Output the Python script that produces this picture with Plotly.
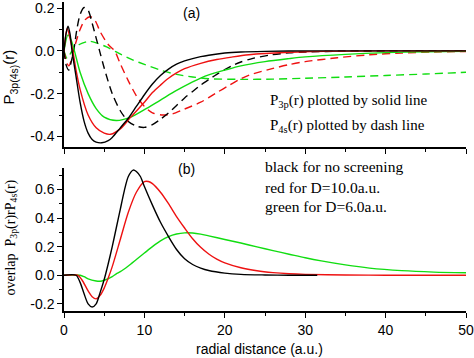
import plotly.graph_objects as go

# ---------------- Panel (a): radial functions ----------------
r_3p_black = [0, 0.25, 0.5, 0.75, 1.0, 1.5, 2, 2.5, 3, 3.5, 4, 4.7, 5.5, 6, 7, 8, 9, 10, 11, 12, 13, 14, 15, 16, 17, 18, 20, 22, 25, 30, 40, 50]
p_3p_black = [0, 0.08, 0.116, 0.08, 0.0, -0.12, -0.24, -0.33, -0.385, -0.415, -0.427, -0.43, -0.42, -0.405, -0.36, -0.315, -0.26, -0.205, -0.155, -0.115, -0.085, -0.062, -0.047, -0.036, -0.027, -0.02, -0.01, -0.005, -0.002, 0, 0, 0]

r_3p_red = [0, 0.4, 0.8, 1.1, 1.5, 2, 3, 4, 5, 5.8, 7, 8.3, 10, 11, 12, 13, 14, 15, 17, 19, 21, 23, 25, 30, 40, 50]
p_3p_red = [0, 0.105, 0.05, 0, -0.09, -0.18, -0.3, -0.36, -0.385, -0.39, -0.365, -0.31, -0.24, -0.195, -0.16, -0.128, -0.103, -0.083, -0.058, -0.04, -0.028, -0.018, -0.012, -0.004, 0, 0]

r_3p_green = [0, 0.5, 0.9, 1.3, 2, 3, 4, 5, 6.5, 8.3, 10, 12, 14, 16, 17, 18, 20, 22, 25, 28, 30, 35, 40, 45, 50]
p_3p_green = [0, 0.075, 0.05, 0, -0.1, -0.2, -0.27, -0.31, -0.326, -0.31, -0.275, -0.23, -0.185, -0.145, -0.127, -0.112, -0.09, -0.07, -0.05, -0.036, -0.028, -0.016, -0.008, -0.004, -0.002]

r_4s_black = [0, 0.3, 0.6, 0.9, 1.2, 1.6, 2, 2.5, 3, 3.5, 4, 4.5, 5, 6, 7, 8, 9, 10, 11, 12, 13, 14, 15, 16, 17, 18, 19, 20, 21, 22, 23.5, 25.5, 28, 30, 35, 40, 50]
p_4s_black = [0, -0.07, -0.09, -0.05, 0, 0.1, 0.17, 0.203, 0.19, 0.13, 0.06, -0.01, -0.08, -0.2, -0.28, -0.33, -0.352, -0.358, -0.345, -0.32, -0.29, -0.255, -0.22, -0.19, -0.16, -0.135, -0.11, -0.088, -0.068, -0.052, -0.035, -0.02, -0.009, -0.005, -0.001, 0, 0]

r_4s_red = [0, 0.3, 0.6, 1.0, 1.4, 2, 2.6, 3.3, 3.9, 4.5, 5.5, 6.3, 7, 8, 9, 10, 11, 12.3, 13.5, 15, 17, 19, 20.6, 22, 23.1, 26, 28, 30, 34, 38, 42, 46, 50]
p_4s_red = [0, -0.05, -0.07, -0.03, 0.03, 0.1, 0.145, 0.16, 0.14, 0.09, 0.03, 0, -0.06, -0.14, -0.21, -0.26, -0.29, -0.3, -0.295, -0.272, -0.24, -0.195, -0.16, -0.13, -0.112, -0.082, -0.064, -0.05, -0.032, -0.018, -0.01, -0.005, -0.003]

r_4s_green = [0, 0.4, 1.0, 1.9, 3.2, 4.2, 5.3, 6.5, 8.6, 10, 12, 14, 16, 18, 22, 26, 30, 35, 40, 45, 50]
p_4s_green = [0, -0.035, 0.0, 0.03, 0.045, 0.035, 0.019, -0.005, -0.043, -0.063, -0.09, -0.11, -0.122, -0.13, -0.133, -0.132, -0.128, -0.122, -0.115, -0.108, -0.1]

# ---------------- Panel (b): overlap ----------------
r_ov_black = [0, 1.5, 2, 2.5, 3, 3.5, 4, 4.5, 5, 5.5, 6, 6.5, 7, 7.5, 8, 8.6, 9, 9.5, 10, 11, 12, 13, 14, 15, 16, 17, 18, 20, 22, 25, 28, 31.5]
ov_black = [0, 0, -0.05, -0.13, -0.2, -0.222, -0.2, -0.12, -0.03, 0.08, 0.2, 0.33, 0.46, 0.59, 0.69, 0.735, 0.725, 0.69, 0.62, 0.49, 0.37, 0.27, 0.18, 0.115, 0.075, 0.05, 0.033, 0.015, 0.006, 0.002, 0, 0]

r_ov_red = [0, 1.7, 2.2, 3, 3.5, 4, 4.5, 5, 5.5, 6, 7, 8, 9, 10, 10.5, 11, 12, 13, 14, 15, 16, 17, 18, 19, 20, 22, 24, 26, 28, 30, 35, 40, 50]
ov_red = [0, 0, -0.03, -0.11, -0.15, -0.165, -0.14, -0.09, -0.02, 0.06, 0.25, 0.44, 0.58, 0.655, 0.655, 0.64, 0.58, 0.5, 0.41, 0.33, 0.255, 0.195, 0.148, 0.112, 0.086, 0.052, 0.031, 0.018, 0.01, 0.006, 0.002, 0, 0]

r_ov_green = [0, 2, 2.5, 3, 4, 4.5, 5, 6, 6.5, 7, 8, 9, 10, 11, 12, 13, 14, 15, 16, 17, 18, 20, 22, 24, 26, 28, 30, 32, 35, 38, 42, 46, 50]
ov_green = [0, 0, -0.01, -0.025, -0.04, -0.042, -0.035, -0.01, 0.01, 0.025, 0.065, 0.11, 0.155, 0.2, 0.24, 0.27, 0.288, 0.296, 0.295, 0.287, 0.275, 0.25, 0.225, 0.198, 0.172, 0.147, 0.122, 0.1, 0.072, 0.05, 0.032, 0.022, 0.017]

x_ticks = [0, 10, 20, 30, 40, 50]
ya_ticks = [0.2, 0.0, -0.2, -0.4]
yb_ticks = [-0.2, 0.0, 0.2, 0.4, 0.6]

BLACK = "#000000"
RED = "#ee1111"
GREEN = "#11dd11"
DASH = "8px,5px"

fig = go.Figure()

def add(xs, ys, color, dash, ax):
    fig.add_trace(go.Scatter(
        x=xs, y=ys, mode="lines",
        line=dict(color=color, width=1.4, dash=dash, shape="spline", smoothing=0.8),
        xaxis="x" if ax == 1 else "x2", yaxis="y" if ax == 1 else "y2",
        showlegend=False, hoverinfo="skip"))

add(r_4s_green, p_4s_green, GREEN, DASH, 1)
add(r_4s_red, p_4s_red, RED, DASH, 1)
add(r_4s_black, p_4s_black, BLACK, DASH, 1)
add(r_3p_green, p_3p_green, GREEN, "solid", 1)
add(r_3p_red, p_3p_red, RED, "solid", 1)
add(r_3p_black, p_3p_black, BLACK, "solid", 1)

add(r_ov_green, ov_green, GREEN, "solid", 2)
add(r_ov_red, ov_red, RED, "solid", 2)
add(r_ov_black, ov_black, BLACK, "solid", 2)

H_PLOT = 311.0
def py(px):
    return (H_PLOT - px) / H_PLOT

axis_common = dict(showline=True, linecolor="black", linewidth=1.5, ticks="outside",
                   tickcolor="black", tickwidth=1.3, ticklen=5, showgrid=False, zeroline=False,
                   ticklabeloverflow="allow",
                   tickfont=dict(family="Liberation Sans, Arial", size=14, color="black"))

fig.update_layout(
    width=474, height=358,
    margin=dict(l=64, r=8, t=0, b=47),
    paper_bgcolor="white", plot_bgcolor="white",
    xaxis=dict(domain=[0, 1], range=[0, 50], anchor="y", tickvals=x_ticks, showticklabels=False,
               minor=dict(dtick=5, ticks="outside", ticklen=3, tickcolor="black", tickwidth=1.2),
               **axis_common),
    yaxis=dict(domain=[py(146), 1], range=[-0.45, 0.229], anchor="x", tickvals=ya_ticks,
               ticktext=["0.2", "0.0", "-0.2", "-0.4"],
               minor=dict(tickvals=[0.1, -0.1, -0.3], ticks="outside", ticklen=3, tickcolor="black", tickwidth=1.2),
               **axis_common),
    xaxis2=dict(domain=[0, 1], range=[0, 50], anchor="y2", tickvals=x_ticks,
                minor=dict(dtick=5, ticks="outside", ticklen=3, tickcolor="black", tickwidth=1.2),
                **axis_common),
    yaxis2=dict(domain=[0, py(167)], range=[-0.25, 0.75], anchor="x2", tickvals=yb_ticks,
                ticktext=["-0.2", "0.0", "0.2", "0.4", "0.6"],
                minor=dict(tickvals=[-0.1, 0.1, 0.3, 0.5, 0.7], ticks="outside", ticklen=3, tickcolor="black", tickwidth=1.2),
                **axis_common),
)

serif = dict(family="Liberation Serif, Times New Roman", size=15.5, color="black")
serif_s = dict(family="Liberation Serif, Times New Roman", size=15, color="black")
sans = dict(family="Liberation Sans, Arial", size=14, color="black")

annos = [
    dict(text="(a)", x=191, y=11, font=sans, xanchor="center"),
    dict(text="(b)", x=186, y=168, font=sans, xanchor="center"),
    dict(text="P<sub>3p</sub>(r) plotted by solid line", x=268, y=100, font=serif_s, xanchor="left"),
    dict(text="P<sub>4s</sub>(r) plotted by dash line", x=268, y=125, font=serif_s, xanchor="left"),
    dict(text="black for no screening", x=263, y=166, font=serif, xanchor="left"),
    dict(text="red for D=10.0a.u.", x=263, y=187, font=serif, xanchor="left"),
    dict(text="green for D=6.0a.u.", x=263, y=206, font=serif, xanchor="left"),
    dict(text="radial distance (a.u.)", x=259, y=349, font=sans, xanchor="center"),
]
for a in annos:
    fig.add_annotation(text=a["text"], xref="paper", yref="paper",
                       x=(a["x"] - 64) / 402.0, y=py(a["y"]), xanchor=a["xanchor"], yanchor="middle",
                       showarrow=False, font=a["font"])

fig.add_annotation(text="P<sub>3p(4s)</sub>(r)", xref="paper", yref="paper",
                   x=(10 - 64) / 402.0, y=py(76), textangle=-90, showarrow=False,
                   xanchor="center", yanchor="middle", font=dict(family="Liberation Sans, Arial", size=15, color="black"))
fig.add_annotation(text="overlap  P<sub>3p</sub>(r)rP<sub>4s</sub>(r)", xref="paper", yref="paper",
                   x=(11 - 64) / 402.0, y=py(237), textangle=-90, showarrow=False,
                   xanchor="center", yanchor="middle", font=dict(family="Liberation Serif, Times New Roman", size=14, color="black"))

fig.write_html("out.html", config={"displayModeBar": False},
               post_script="document.body.style.margin='0';document.body.style.overflow='hidden';")
